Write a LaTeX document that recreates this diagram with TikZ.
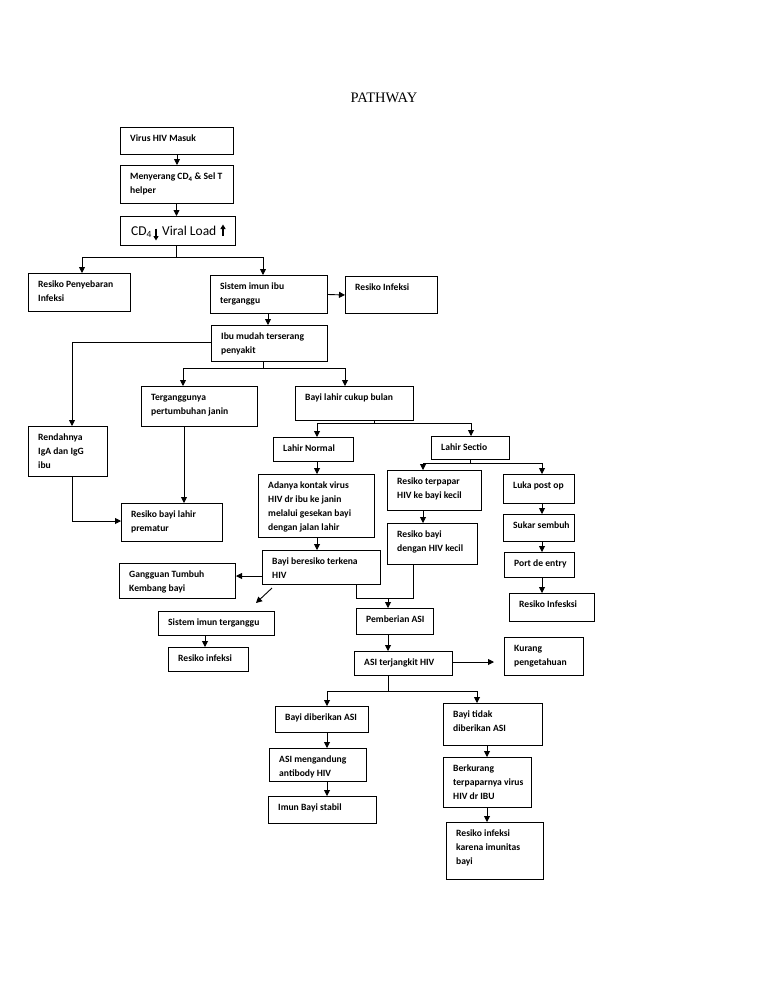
\documentclass[tikz,border=0pt]{standalone}
\usepackage{fontspec}
\setmainfont{Carlito}
\newfontfamily\titlefont{Liberation Serif}
\usetikzlibrary{arrows.meta}
\tikzset{
 box/.style={draw=black, line width=1pt, rectangle, inner sep=0pt, fill=white},
 txt/.style={inner sep=0pt, align=left, font=\fontsize{9.6}{14}\selectfont\bfseries},
 cdfont/.style={inner sep=0pt, font=\fontsize{13.5}{16}\selectfont},
 arr/.style={line width=0.9pt, -{Triangle[length=6pt,width=6pt]}},
 smallarr/.style={line width=1.1pt, -{Triangle[length=4.5pt,width=5pt]}},
 ln/.style={line width=0.9pt},
}
\newcommand{\bx}[6]{%
 \node[box,minimum width=#4pt,minimum height=#5pt,anchor=north west] (#1) at (#2,#3) {};
 \node[txt,anchor=north west] (#1t) at ([xshift=10pt,yshift=-4.5pt]#1.north west) {\strut #6};}
\begin{document}
\begin{tikzpicture}[x=1pt,y=-1pt]
\useasboundingbox[fill=white] (0,0) rectangle (768,994);
\node[font=\titlefont\fontsize{14.5}{17}\selectfont, inner sep=0pt] (title) at (384,98) {PATHWAY};

\bx{virus}{120}{127}{113}{27}{Virus HIV Masuk}
\bx{menyerang}{120}{165}{113}{38}{Menyerang CD\textsubscript{4} \& Sel T\\helper}
\node[box,minimum width=115pt,minimum height=29pt,anchor=north west] (cd4) at (120,216) {};
\node[cdfont,anchor=base west] (cd4a) at (131,235.5) {CD\textsubscript{4}};
\node[cdfont,anchor=base west] (cd4b) at (162,235.5) {Viral Load};
\coordinate (ad1) at (156,228.5); \coordinate (ad2) at (156,240.5);
\draw[smallarr] (ad1) -- (ad2);
\coordinate (au1) at (223,236); \coordinate (au2) at (223,224.5);
\draw[smallarr] (au1) -- (au2);

\bx{penyebaran}{28}{273}{102}{38}{Resiko Penyebaran\\Infeksi}
\bx{sistem}{210}{275}{117}{38}{Sistem imun ibu\\terganggu}
\bx{rinfeksi}{345}{276}{92}{37}{Resiko Infeksi}
\bx{ibu}{211}{325}{116}{36}{Ibu mudah terserang\\penyakit}
\bx{rendah}{28}{426}{79}{50}{Rendahnya\\IgA dan IgG\\ibu}
\bx{tergang}{141}{386}{116}{40}{Terganggunya\\pertumbuhan janin}
\bx{cukup}{295}{386}{118}{34}{Bayi lahir cukup bulan}
\bx{prematur}{121}{503}{101}{38}{Resiko bayi lahir\\prematur}
\bx{normal}{273}{437}{80}{24}{Lahir Normal}
\bx{sectio}{431}{436}{78}{23}{Lahir Sectio}
\bx{adanya}{258}{474}{116}{63}{Adanya kontak virus\\HIV dr ibu ke janin\\melalui gesekan bayi\\dengan jalan lahir}
\bx{terpapar}{387}{470}{94}{40}{Resiko terpapar\\HIV ke bayi kecil}
\bx{bayikecil}{387}{523}{90}{41}{Resiko bayi\\dengan HIV kecil}
\bx{luka}{503}{474}{71}{29}{Luka post op}
\bx{sukar}{503}{514}{71}{27}{Sukar sembuh}
\bx{port}{504}{552}{70}{25}{Port de entry}
\bx{rinfesksi}{509}{593}{85}{28}{Resiko Infesksi}
\bx{beresiko}{262}{550}{118}{34}{Bayi beresiko terkena\\HIV}
\bx{gangguan}{119}{563}{116}{35}{Gangguan Tumbuh\\Kembang bayi}
\bx{sistemb}{158}{611}{116}{24}{Sistem imun terganggu}
\bx{rinfb}{168}{647}{80}{24}{Resiko infeksi}
\bx{pemberian}{356}{608}{77}{26}{Pemberian ASI}
\bx{asiterj}{354}{651}{98}{24}{ASI terjangkit HIV}
\bx{kurang}{504}{637}{79}{38}{Kurang\\pengetahuan}
\bx{diberi}{275}{706}{93}{26}{Bayi diberikan ASI}
\bx{tidak}{443}{703}{99}{42}{Bayi tidak\\diberikan ASI}
\bx{mengandung}{269}{748}{97}{33}{ASI mengandung\\antibody HIV}
\bx{imun}{268}{796}{108}{27}{Imun Bayi stabil}
\bx{berkurang}{443}{757}{88}{50}{Berkurang\\terpaparnya virus\\HIV dr IBU}
\bx{karena}{446}{822}{97}{57}{Resiko infeksi\\karena imunitas\\bayi}

% connectors
\draw[arr] (virus.south) -- (menyerang.north);
\coordinate (vx) at (176.5,0);
\draw[arr] (vx |- menyerang.south) -- (vx |- cd4.north);
\coordinate (jL) at (82,257); \coordinate (jR) at (263,257);
\draw[ln] (vx |- cd4.south) -- (vx |- jL);
\draw[ln] (jL) -- (jR);
\draw[arr] (jL) -- (jL |- penyebaran.north);
\draw[arr] (jR) -- (jR |- sistem.north);
\draw[arr] (sistem.east) -- (rinfeksi.west);
\coordinate (sx) at (268,0);
\draw[arr] (sx |- sistem.south) -- (sx |- ibu.north);
\coordinate (k1) at (72,342);
\draw[arr] (ibu.west |- k1) -- (k1) -- (k1 |- rendah.north);
\coordinate (m0) at (263,368); \coordinate (m1) at (183,368); \coordinate (m2) at (345,368);
\draw[ln] (m0 |- ibu.south) -- (m0);
\draw[ln] (m1) -- (m2);
\draw[arr] (m1) -- (m1 |- tergang.north);
\draw[arr] (m2) -- (m2 |- cukup.north);
\coordinate (r1) at (72,521);
\draw[arr] (r1 |- rendah.south) -- (r1) -- (r1 -| prematur.west);
\coordinate (t1) at (184,0);
\draw[arr] (t1 |- tergang.south) -- (t1 |- prematur.north);
\coordinate (c0) at (374,423); \coordinate (c1) at (317,423); \coordinate (c2) at (471,423);
\draw[ln] (c0 |- cukup.south) -- (c0);
\draw[ln] (c1) -- (c2);
\draw[arr] (c1) -- (c1 |- normal.north);
\draw[arr] (c2) -- (c2 |- sectio.north);
\draw[arr] (c1 |- normal.south) -- (c1 |- adanya.north);
\draw[arr] (c1 |- adanya.south) -- (c1 |- beresiko.north);
\coordinate (s0) at (470,463); \coordinate (s1) at (423,463); \coordinate (s2) at (542,463);
\draw[ln] (s0 |- sectio.south) -- (s0);
\draw[ln] (s1) -- (s2);
\draw[arr] (s1) -- (s1 |- terpapar.north);
\draw[arr] (s2) -- (s2 |- luka.north);
\draw[arr] (s1 |- terpapar.south) -- (s1 |- bayikecil.north);
\draw[arr] (s2 |- luka.south) -- (s2 |- sukar.north);
\draw[arr] (s2 |- sukar.south) -- (s2 |- port.north);
\draw[arr] (s2 |- port.south) -- (s2 |- rinfesksi.north);
\coordinate (g1) at (0,576);
\draw[arr] (beresiko.west |- g1) -- (gangguan.east |- g1);
\coordinate (d1) at (272,588); \coordinate (d2) at (256,603);
\draw[arr] (d1) -- (d2);
\coordinate (sb) at (205,0);
\draw[arr] (sb |- sistemb.south) -- (sb |- rinfb.north);
\coordinate (p0) at (356,598); \coordinate (p1) at (413,598); \coordinate (p2) at (388,598);
\draw[ln] (p0 |- beresiko.south) -- (p0) -- (p1) -- (p1 |- bayikecil.south);
\draw[arr] (p2) -- (p2 |- pemberian.north);
\draw[arr] (p2 |- pemberian.south) -- (p2 |- asiterj.north);
\coordinate (q1) at (0,662);
\draw[arr] (asiterj.east |- q1) -- ([xshift=-10pt]kurang.west |- q1);
\coordinate (a0) at (388,691); \coordinate (a1) at (327,691); \coordinate (a2) at (477,691);
\draw[ln] (a0 |- asiterj.south) -- (a0);
\draw[ln] (a1) -- (a2);
\draw[arr] (a1) -- (a1 |- diberi.north);
\draw[arr] (a2) -- (a2 |- tidak.north);
\draw[arr] (a1 |- diberi.south) -- (a1 |- mengandung.north);
\draw[arr] (a1 |- mengandung.south) -- (a1 |- imun.north);
\coordinate (b1) at (487,0);
\draw[arr] (b1 |- tidak.south) -- (b1 |- berkurang.north);
\draw[arr] (b1 |- berkurang.south) -- (b1 |- karena.north);
\end{tikzpicture}
\end{document}
